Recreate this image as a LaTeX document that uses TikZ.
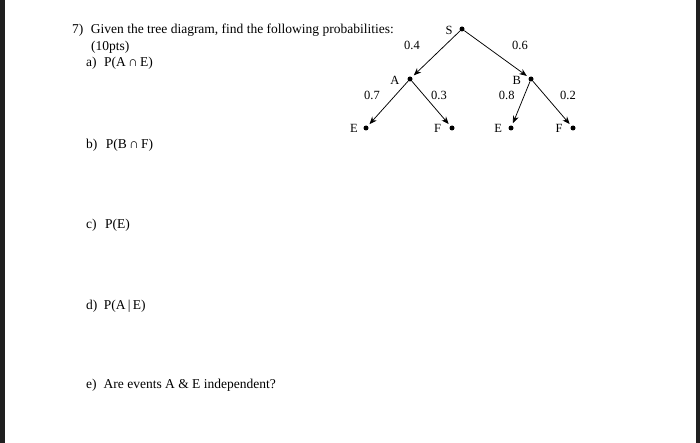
\documentclass[tikz,border=0pt]{standalone}
\usepackage{fontspec}
\setmainfont{Liberation Serif}
\usetikzlibrary{arrows.meta}

\tikzset{
  dot/.style={circle, fill=black, inner sep=0pt, minimum size=5pt},
  branch/.style={-{Stealth[length=7.5pt,width=6pt]}, line width=0.75pt, shorten >=2.5pt},
  lbl/.style={font=\fontsize{12.5}{14}\selectfont, inner sep=0pt},
  txt/.style={font=\fontsize{13.5}{16}\selectfont, anchor=base west, inner sep=0pt},
}

\begin{document}
\begin{tikzpicture}[x=1pt, y=-1pt]
  \useasboundingbox (0,0) rectangle (700,443);
  % dark page edges
  \fill[black!88] (0,0) rectangle (4.5,443);
  \fill[black!88] (695.5,0) rectangle (700,443);
  % question text
  \node[txt] (num) at (72,34) {7)};
  \node[txt] (q) at (90.7,34) {Given the tree diagram, find the following probabilities:};
  \node[txt] (pts) at (91,51) {(10pts)};
  \node[txt] (qa) at (86,67) {a)\hspace{7.5pt}P(A\,∩\,E)};
  \node[txt] (qb) at (86,149) {b)\hspace{8.5pt}P(B\,∩\,F)};
  \node[txt] (qc) at (86,229) {c)\hspace{8.5pt}P(E)};
  \node[txt] (qd) at (86,309) {d)\hspace{6.5pt}P(A\,|\,E)};
  \node[txt] (qe) at (86,388) {e)\hspace{7pt}Are events A \& E independent?};
  % tree
  \node[dot] (s) at (462,29) {};
  \node[dot] (a) at (410,79) {};
  \node[dot] (b) at (531,79) {};
  \node[dot] (ae) at (366,128) {};
  \node[dot] (af) at (452,128) {};
  \node[dot] (be) at (511,128) {};
  \node[dot] (bf) at (573,128) {};
  \node[lbl] (sl) at (449,30) {S};
  \node[lbl] (al) at (395,80) {A};
  \node[lbl] (bl) at (516.7,80) {B};
  \node[lbl] (ael) at (354,128) {E};
  \node[lbl] (afl) at (437.7,128) {F};
  \node[lbl] (bel) at (498.3,128) {E};
  \node[lbl] (bfl) at (559,128) {F};
  \draw[branch] (s) -- (a);
  \draw[branch] (s) -- (b);
  \draw[branch] (a) -- (ae);
  \draw[branch] (a) -- (af);
  \draw[branch] (b) -- (be);
  \draw[branch] (b) -- (bf);
  % probabilities
  \node[lbl] (pa) at (412,45.7) {0.4};
  \node[lbl] (pb) at (520,45) {0.6};
  \node[lbl] (pae) at (372,95) {0.7};
  \node[lbl] (paf) at (439,95.7) {0.3};
  \node[lbl] (pbe) at (506.7,95.7) {0.8};
  \node[lbl] (pbf) at (568,95) {0.2};
\end{tikzpicture}
\end{document}
